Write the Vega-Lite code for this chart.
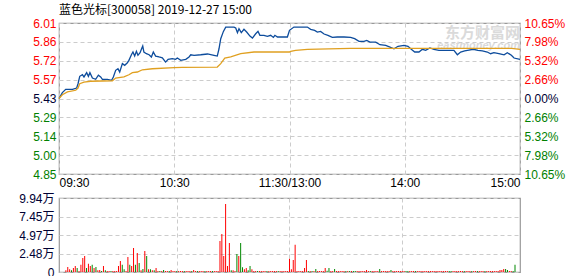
{
"$schema": "https://vega.github.io/schema/vega-lite/v6.json",
"background": "white",
"padding": {"left": 18, "top": 3, "right": 5, "bottom": 2},
"bounds": "flush",
"spacing": 24,
"config": {
  "view": {"stroke": "#999999", "strokeWidth": 1.2},
  "axis": {"labelFont": "Liberation Sans, Noto Sans CJK SC", "labelFontSize": 12, "labelColor": "#000000", "domain": false, "ticks": false, "gridColor": "#cccccc", "gridDash": [4, 3], "gridWidth": 1, "title": null}
},
"datasets": {
  "price": [{"m":0,"p":5.43},{"m":1.75,"p":5.475},{"m":3.5,"p":5.5},{"m":7,"p":5.5},{"m":9.2,"p":5.51},{"m":9.9,"p":5.543},{"m":10.8,"p":5.6},{"m":12.2,"p":5.612},{"m":13,"p":5.595},{"m":14.4,"p":5.628},{"m":15.3,"p":5.6},{"m":16.1,"p":5.628},{"m":17.4,"p":5.587},{"m":19.1,"p":5.577},{"m":20.5,"p":5.608},{"m":21.7,"p":5.595},{"m":22.6,"p":5.577},{"m":25.2,"p":5.577},{"m":27.4,"p":5.569},{"m":28.3,"p":5.595},{"m":29.5,"p":5.646},{"m":30.7,"p":5.658},{"m":31.6,"p":5.633},{"m":33,"p":5.697},{"m":34.2,"p":5.684},{"m":35.6,"p":5.704},{"m":36.4,"p":5.722},{"m":37.7,"p":5.765},{"m":38.5,"p":5.786},{"m":39.4,"p":5.755},{"m":40.3,"p":5.791},{"m":41.1,"p":5.761},{"m":42.2,"p":5.781},{"m":43,"p":5.811},{"m":43.6,"p":5.832},{"m":44.2,"p":5.786},{"m":45.5,"p":5.773},{"m":46.9,"p":5.765},{"m":48.1,"p":5.748},{"m":49.1,"p":5.786},{"m":50.3,"p":5.755},{"m":52.1,"p":5.748},{"m":53.8,"p":5.742},{"m":55.5,"p":5.709},{"m":56.8,"p":5.73},{"m":59,"p":5.735},{"m":60.7,"p":5.73},{"m":61.6,"p":5.74},{"m":63.4,"p":5.722},{"m":66,"p":5.73},{"m":67.7,"p":5.748},{"m":68.6,"p":5.765},{"m":70.3,"p":5.761},{"m":73.8,"p":5.765},{"m":77.3,"p":5.771},{"m":80.7,"p":5.761},{"m":82.4,"p":5.755},{"m":83.3,"p":5.811},{"m":84.2,"p":5.888},{"m":85.6,"p":5.944},{"m":86.8,"p":5.977},{"m":91.1,"p":5.977},{"m":92,"p":5.97},{"m":92.9,"p":5.934},{"m":93.7,"p":5.964},{"m":94.9,"p":5.934},{"m":96.3,"p":5.96},{"m":97.7,"p":5.939},{"m":99.4,"p":5.908},{"m":100.7,"p":5.893},{"m":102.4,"p":5.926},{"m":103.6,"p":5.944},{"m":104.6,"p":5.914},{"m":106.7,"p":5.914},{"m":108.5,"p":5.906},{"m":110.2,"p":5.914},{"m":111.6,"p":5.898},{"m":112.4,"p":5.914},{"m":113.7,"p":5.901},{"m":118.9,"p":5.901},{"m":120,"p":5.952},{"m":122.3,"p":5.977},{"m":129.3,"p":5.977},{"m":131,"p":5.96},{"m":133.1,"p":5.952},{"m":134.5,"p":5.939},{"m":136.2,"p":5.944},{"m":138,"p":5.924},{"m":140,"p":5.914},{"m":142.3,"p":5.898},{"m":144.9,"p":5.901},{"m":148.4,"p":5.901},{"m":151.8,"p":5.898},{"m":153.9,"p":5.888},{"m":156.2,"p":5.868},{"m":158.8,"p":5.868},{"m":160.2,"p":5.875},{"m":161.9,"p":5.862},{"m":164.9,"p":5.862},{"m":167.1,"p":5.842},{"m":170.1,"p":5.837},{"m":172.3,"p":5.824},{"m":174.4,"p":5.811},{"m":176.5,"p":5.83},{"m":179.6,"p":5.837},{"m":181.7,"p":5.83},{"m":183.4,"p":5.807},{"m":185.2,"p":5.786},{"m":187.4,"p":5.786},{"m":189.2,"p":5.807},{"m":190.9,"p":5.799},{"m":193.1,"p":5.817},{"m":195.2,"p":5.807},{"m":197.8,"p":5.799},{"m":205.6,"p":5.799},{"m":207.4,"p":5.765},{"m":209.1,"p":5.786},{"m":211.2,"p":5.794},{"m":213.4,"p":5.801},{"m":215.7,"p":5.807},{"m":218.1,"p":5.799},{"m":220.4,"p":5.794},{"m":223,"p":5.786},{"m":224.7,"p":5.773},{"m":226.4,"p":5.781},{"m":229,"p":5.773},{"m":231.7,"p":5.765},{"m":233.4,"p":5.781},{"m":235.5,"p":5.761},{"m":236.9,"p":5.74},{"m":240,"p":5.73}],
  "avg": [{"m":0,"a":5.43},{"m":1.75,"a":5.459},{"m":4.4,"a":5.48},{"m":8.7,"a":5.493},{"m":9.9,"a":5.51},{"m":10.8,"a":5.543},{"m":13,"a":5.556},{"m":16.5,"a":5.562},{"m":27.8,"a":5.566},{"m":29.5,"a":5.587},{"m":33.8,"a":5.595},{"m":36.4,"a":5.612},{"m":38.2,"a":5.628},{"m":40.8,"a":5.633},{"m":43.4,"a":5.65},{"m":48.6,"a":5.658},{"m":59.9,"a":5.666},{"m":64.2,"a":5.669},{"m":82.4,"a":5.671},{"m":84.2,"a":5.697},{"m":86.3,"a":5.74},{"m":89.4,"a":5.748},{"m":94.6,"a":5.773},{"m":101.5,"a":5.786},{"m":120,"a":5.786},{"m":120.6,"a":5.791},{"m":123.2,"a":5.799},{"m":129.3,"a":5.807},{"m":151.8,"a":5.814},{"m":235.7,"a":5.814},{"m":240,"a":5.807}],
  "wm1": [{"m":240,"p":5.935,"t":"东方财富网"}],
  "wm2": [{"m":240,"p":5.83,"t":"eastmoney.com"}],
  "vol": [{"m":1,"v":0.22,"d":"u"},{"m":2,"v":0.67,"d":"u"},{"m":3,"v":0.36,"d":"u"},{"m":4,"v":0.22,"d":"d"},{"m":5,"v":0.54,"d":"u"},{"m":6,"v":0.81,"d":"u"},{"m":7,"v":0.54,"d":"d"},{"m":8,"v":0.13,"d":"u"},{"m":9,"v":0.98,"d":"u"},{"m":10,"v":1.88,"d":"u"},{"m":11,"v":2.15,"d":"u"},{"m":12,"v":0.54,"d":"d"},{"m":13,"v":1.12,"d":"u"},{"m":14,"v":0.8,"d":"u"},{"m":15,"v":0.98,"d":"d"},{"m":16,"v":0.54,"d":"u"},{"m":17,"v":0.67,"d":"d"},{"m":18,"v":0.22,"d":"u"},{"m":19,"v":0.27,"d":"u"},{"m":20,"v":0.13,"d":"d"},{"m":21,"v":0.8,"d":"u"},{"m":22,"v":0.22,"d":"d"},{"m":23,"v":0.13,"d":"u"},{"m":24,"v":0.13,"d":"u"},{"m":25,"v":0.13,"d":"d"},{"m":26,"v":0.13,"d":"u"},{"m":27,"v":0.13,"d":"u"},{"m":28,"v":0.13,"d":"u"},{"m":29,"v":0.8,"d":"u"},{"m":30,"v":1.48,"d":"u"},{"m":31,"v":0.98,"d":"d"},{"m":32,"v":0.36,"d":"d"},{"m":33,"v":0.13,"d":"u"},{"m":34,"v":2.0,"d":"u"},{"m":35,"v":0.98,"d":"d"},{"m":36,"v":0.8,"d":"u"},{"m":37,"v":3.22,"d":"u"},{"m":38,"v":0.98,"d":"d"},{"m":39,"v":2.55,"d":"u"},{"m":40,"v":1.2,"d":"d"},{"m":41,"v":0.22,"d":"u"},{"m":42,"v":0.4,"d":"d"},{"m":43,"v":2.82,"d":"u"},{"m":44,"v":2.15,"d":"d"},{"m":45,"v":0.36,"d":"u"},{"m":46,"v":0.36,"d":"d"},{"m":47,"v":0.22,"d":"u"},{"m":48,"v":0.22,"d":"d"},{"m":49,"v":0.54,"d":"u"},{"m":50,"v":0.13,"d":"u"},{"m":51,"v":0.13,"d":"d"},{"m":52,"v":0.13,"d":"u"},{"m":53,"v":0.27,"d":"d"},{"m":54,"v":0.13,"d":"u"},{"m":55,"v":0.13,"d":"u"},{"m":56,"v":0.13,"d":"d"},{"m":57,"v":0.27,"d":"u"},{"m":58,"v":0.13,"d":"u"},{"m":59,"v":0.13,"d":"u"},{"m":60,"v":0.13,"d":"d"},{"m":61,"v":0.13,"d":"u"},{"m":62,"v":0.13,"d":"u"},{"m":63,"v":0.13,"d":"u"},{"m":64,"v":0.13,"d":"d"},{"m":65,"v":0.13,"d":"u"},{"m":66,"v":0.13,"d":"u"},{"m":67,"v":0.13,"d":"u"},{"m":68,"v":0.13,"d":"d"},{"m":69,"v":0.27,"d":"u"},{"m":70,"v":0.13,"d":"u"},{"m":71,"v":0.13,"d":"d"},{"m":72,"v":0.13,"d":"u"},{"m":73,"v":0.13,"d":"u"},{"m":74,"v":0.13,"d":"u"},{"m":75,"v":0.13,"d":"d"},{"m":76,"v":0.13,"d":"u"},{"m":77,"v":0.13,"d":"u"},{"m":78,"v":0.13,"d":"u"},{"m":79,"v":0.13,"d":"d"},{"m":80,"v":0.13,"d":"u"},{"m":81,"v":0.13,"d":"u"},{"m":82,"v":0.13,"d":"u"},{"m":83,"v":4.16,"d":"u"},{"m":84,"v":5.1,"d":"u"},{"m":85,"v":2.15,"d":"u"},{"m":86,"v":9.13,"d":"u"},{"m":87,"v":0.8,"d":"u"},{"m":88,"v":3.9,"d":"u"},{"m":89,"v":0.22,"d":"d"},{"m":90,"v":0.22,"d":"u"},{"m":91,"v":0.13,"d":"u"},{"m":92,"v":2.42,"d":"d"},{"m":93,"v":2.15,"d":"u"},{"m":94,"v":3.9,"d":"d"},{"m":95,"v":0.63,"d":"d"},{"m":96,"v":0.36,"d":"u"},{"m":97,"v":0.54,"d":"u"},{"m":98,"v":0.22,"d":"d"},{"m":99,"v":0.8,"d":"d"},{"m":100,"v":0.36,"d":"u"},{"m":101,"v":0.13,"d":"u"},{"m":102,"v":0.13,"d":"u"},{"m":103,"v":0.13,"d":"d"},{"m":104,"v":0.13,"d":"u"},{"m":105,"v":0.13,"d":"u"},{"m":106,"v":0.13,"d":"u"},{"m":107,"v":0.13,"d":"u"},{"m":108,"v":0.13,"d":"d"},{"m":109,"v":0.13,"d":"u"},{"m":110,"v":0.13,"d":"u"},{"m":111,"v":0.13,"d":"u"},{"m":112,"v":0.13,"d":"u"},{"m":113,"v":0.13,"d":"u"},{"m":114,"v":0.13,"d":"d"},{"m":115,"v":0.13,"d":"u"},{"m":116,"v":0.13,"d":"u"},{"m":117,"v":0.13,"d":"u"},{"m":118,"v":0.13,"d":"u"},{"m":119,"v":0.13,"d":"u"},{"m":120,"v":1.79,"d":"u"},{"m":121,"v":0.36,"d":"u"},{"m":122,"v":1.61,"d":"u"},{"m":123,"v":3.67,"d":"u"},{"m":124,"v":0.13,"d":"u"},{"m":125,"v":0.13,"d":"u"},{"m":126,"v":0.13,"d":"u"},{"m":127,"v":0.13,"d":"u"},{"m":128,"v":0.54,"d":"u"},{"m":129,"v":1.61,"d":"u"},{"m":130,"v":0.13,"d":"d"},{"m":131,"v":0.13,"d":"u"},{"m":132,"v":0.13,"d":"d"},{"m":133,"v":0.13,"d":"u"},{"m":134,"v":0.4,"d":"d"},{"m":135,"v":0.13,"d":"u"},{"m":136,"v":0.13,"d":"u"},{"m":137,"v":0.13,"d":"u"},{"m":138,"v":0.13,"d":"u"},{"m":139,"v":0.54,"d":"u"},{"m":140,"v":0.18,"d":"d"},{"m":141,"v":0.54,"d":"d"},{"m":142,"v":0.13,"d":"u"},{"m":143,"v":0.13,"d":"u"},{"m":144,"v":0.4,"d":"d"},{"m":145,"v":0.13,"d":"u"},{"m":146,"v":0.13,"d":"u"},{"m":147,"v":0.13,"d":"u"},{"m":148,"v":0.13,"d":"u"},{"m":149,"v":0.13,"d":"u"},{"m":150,"v":0.13,"d":"d"},{"m":151,"v":0.13,"d":"u"},{"m":152,"v":0.13,"d":"d"},{"m":153,"v":0.13,"d":"u"},{"m":154,"v":0.13,"d":"d"},{"m":155,"v":0.13,"d":"d"},{"m":156,"v":0.13,"d":"u"},{"m":157,"v":0.13,"d":"u"},{"m":158,"v":0.13,"d":"u"},{"m":159,"v":0.13,"d":"u"},{"m":160,"v":0.13,"d":"u"},{"m":161,"v":0.27,"d":"u"},{"m":162,"v":0.13,"d":"u"},{"m":163,"v":0.13,"d":"d"},{"m":164,"v":0.13,"d":"u"},{"m":165,"v":0.13,"d":"u"},{"m":166,"v":0.13,"d":"u"},{"m":167,"v":0.13,"d":"u"},{"m":168,"v":0.4,"d":"d"},{"m":169,"v":0.13,"d":"u"},{"m":170,"v":0.13,"d":"u"},{"m":171,"v":0.13,"d":"u"},{"m":172,"v":0.13,"d":"u"},{"m":173,"v":0.13,"d":"u"},{"m":174,"v":0.27,"d":"d"},{"m":175,"v":0.13,"d":"u"},{"m":176,"v":0.13,"d":"u"},{"m":177,"v":0.13,"d":"u"},{"m":178,"v":0.13,"d":"u"},{"m":179,"v":0.13,"d":"u"},{"m":180,"v":0.13,"d":"u"},{"m":181,"v":0.13,"d":"u"},{"m":182,"v":0.13,"d":"d"},{"m":183,"v":0.13,"d":"d"},{"m":184,"v":0.13,"d":"u"},{"m":185,"v":0.13,"d":"u"},{"m":186,"v":0.13,"d":"u"},{"m":187,"v":0.13,"d":"d"},{"m":188,"v":0.13,"d":"u"},{"m":189,"v":0.13,"d":"u"},{"m":190,"v":0.13,"d":"u"},{"m":191,"v":0.13,"d":"u"},{"m":192,"v":0.13,"d":"u"},{"m":193,"v":0.13,"d":"u"},{"m":194,"v":0.13,"d":"u"},{"m":195,"v":0.13,"d":"u"},{"m":196,"v":0.13,"d":"u"},{"m":197,"v":0.13,"d":"u"},{"m":198,"v":0.13,"d":"u"},{"m":199,"v":0.13,"d":"u"},{"m":200,"v":0.13,"d":"u"},{"m":201,"v":0.13,"d":"u"},{"m":202,"v":0.13,"d":"u"},{"m":203,"v":0.13,"d":"u"},{"m":204,"v":0.13,"d":"u"},{"m":205,"v":0.13,"d":"d"},{"m":206,"v":0.13,"d":"d"},{"m":207,"v":0.13,"d":"u"},{"m":208,"v":0.13,"d":"u"},{"m":209,"v":0.13,"d":"u"},{"m":210,"v":0.13,"d":"u"},{"m":211,"v":0.13,"d":"u"},{"m":212,"v":0.13,"d":"u"},{"m":213,"v":0.13,"d":"d"},{"m":214,"v":0.13,"d":"u"},{"m":215,"v":0.13,"d":"u"},{"m":216,"v":0.13,"d":"u"},{"m":217,"v":0.13,"d":"d"},{"m":218,"v":0.13,"d":"u"},{"m":219,"v":0.13,"d":"u"},{"m":220,"v":0.13,"d":"d"},{"m":221,"v":0.13,"d":"u"},{"m":222,"v":0.13,"d":"u"},{"m":223,"v":0.13,"d":"u"},{"m":224,"v":0.13,"d":"d"},{"m":225,"v":0.13,"d":"u"},{"m":226,"v":0.13,"d":"u"},{"m":227,"v":0.13,"d":"u"},{"m":228,"v":0.13,"d":"u"},{"m":229,"v":0.13,"d":"u"},{"m":230,"v":0.13,"d":"u"},{"m":231,"v":0.13,"d":"u"},{"m":232,"v":0.27,"d":"u"},{"m":233,"v":0.27,"d":"u"},{"m":234,"v":0.4,"d":"u"},{"m":235,"v":0.4,"d":"d"},{"m":236,"v":0.27,"d":"d"},{"m":237,"v":0.13,"d":"u"},{"m":238,"v":0.13,"d":"u"},{"m":239,"v":0.13,"d":"d"},{"m":240,"v":0.98,"d":"d"}]
},
"vconcat": [
  {
    "width": 461,
    "height": 151,
    "title": {"text": "蓝色光标[300058] 2019-12-27  15:00", "anchor": "start", "frame": "group", "font": "Noto Sans CJK SC", "fontSize": 12, "fontWeight": "normal", "color": "#000000", "offset": 0},
    "layer": [
      {
        "data": {"name": "price"},
        "mark": {"type": "line", "color": "#0d4c9c", "strokeWidth": 1.3},
        "encoding": {
          "x": {"field": "m", "type": "quantitative", "scale": {"domain": [0, 240], "nice": false, "zero": false},
                "axis": {"values": [0, 60, 120, 180, 240], "labelFlush": true, "labelPadding": 3, "grid": true,
                         "labelExpr": "datum.value == 0 ? '09:30' : datum.value == 60 ? '10:30' : datum.value == 120 ? '11:30/13:00' : datum.value == 180 ? '14:00' : '15:00'"}},
          "y": {"field": "p", "type": "quantitative", "scale": {"domain": [4.8517, 6.0083], "nice": false, "zero": false},
                "axis": {"values": [4.8517, 4.9963, 5.1408, 5.2854, 5.43, 5.5746, 5.7192, 5.8637, 6.0083], "format": ".2f", "labelPadding": 3, "grid": true,
                         "labelColor": {"expr": "datum.value > 5.44 ? '#ff0000' : datum.value > 5.42 ? '#000033' : '#008000'"}}}
        }
      },
      {
        "data": {"name": "wm1"},
        "mark": {"type": "text", "align": "right", "baseline": "middle", "font": "Noto Sans CJK SC", "fontSize": 15, "fontWeight": "bold", "color": "#d4d4d4", "opacity": 0.85},
        "encoding": {
          "x": {"field": "m", "type": "quantitative", "scale": {"domain": [0, 240], "nice": false, "zero": false}},
          "y": {"field": "p", "type": "quantitative", "scale": {"domain": [4.8517, 6.0083], "nice": false, "zero": false}, "axis": null},
          "text": {"field": "t"}
        }
      },
      {
        "data": {"name": "wm2"},
        "mark": {"type": "text", "align": "right", "baseline": "middle", "font": "Liberation Sans", "fontSize": 11, "fontWeight": "bold", "fontStyle": "italic", "color": "#d4d4d4", "opacity": 0.85},
        "encoding": {
          "x": {"field": "m", "type": "quantitative", "scale": {"domain": [0, 240], "nice": false, "zero": false}},
          "y": {"field": "p", "type": "quantitative", "scale": {"domain": [4.8517, 6.0083], "nice": false, "zero": false}, "axis": null},
          "text": {"field": "t"}
        }
      },
      {
        "data": {"name": "avg"},
        "mark": {"type": "line", "color": "#e0a020", "strokeWidth": 1.3},
        "encoding": {
          "x": {"field": "m", "type": "quantitative", "scale": {"domain": [0, 240], "nice": false, "zero": false}},
          "y": {"field": "a", "type": "quantitative", "scale": {"domain": [4.8517, 6.0083], "nice": false, "zero": false},
                "axis": {"orient": "right", "values": [4.8517, 4.9963, 5.1408, 5.2854, 5.43, 5.5746, 5.7192, 5.8637, 6.0083], "labelPadding": 4, "grid": false,
                         "labelExpr": "datum.value > 6 ? '10.65%' : datum.value > 5.8 ? '7.98%' : datum.value > 5.7 ? '5.32%' : datum.value > 5.5 ? '2.66%' : datum.value > 5.42 ? '0.00%' : datum.value > 5.2 ? '2.66%' : datum.value > 5.1 ? '5.32%' : datum.value > 4.9 ? '7.98%' : '10.65%'",
                         "labelColor": {"expr": "datum.value > 5.44 ? '#ff0000' : datum.value > 5.42 ? '#000033' : '#008000'"}}}
        }
      }
    ],
    "resolve": {"scale": {"y": "independent"}}
  },
  {
    "width": 461,
    "height": 74,
    "data": {"name": "vol"},
    "mark": {"type": "bar", "size": 1},
    "encoding": {
      "x": {"field": "m", "type": "quantitative", "scale": {"domain": [0, 240], "nice": false, "zero": false},
            "axis": {"values": [60, 120, 180], "labels": false, "grid": true}},
      "y": {"field": "v", "type": "quantitative", "scale": {"domain": [0, 9.94], "nice": false},
            "axis": {"values": [0, 2.48, 4.97, 7.45, 9.94], "labelPadding": 5, "grid": true, "labelColor": "#000033",
                     "labelExpr": "datum.value == 0 ? '0' : format(datum.value, '.2f') + '万'"}},
      "color": {"field": "d", "type": "nominal", "scale": {"domain": ["u", "d"], "range": ["#ff0000", "#008800"]}, "legend": null}
    }
  }
]
}
